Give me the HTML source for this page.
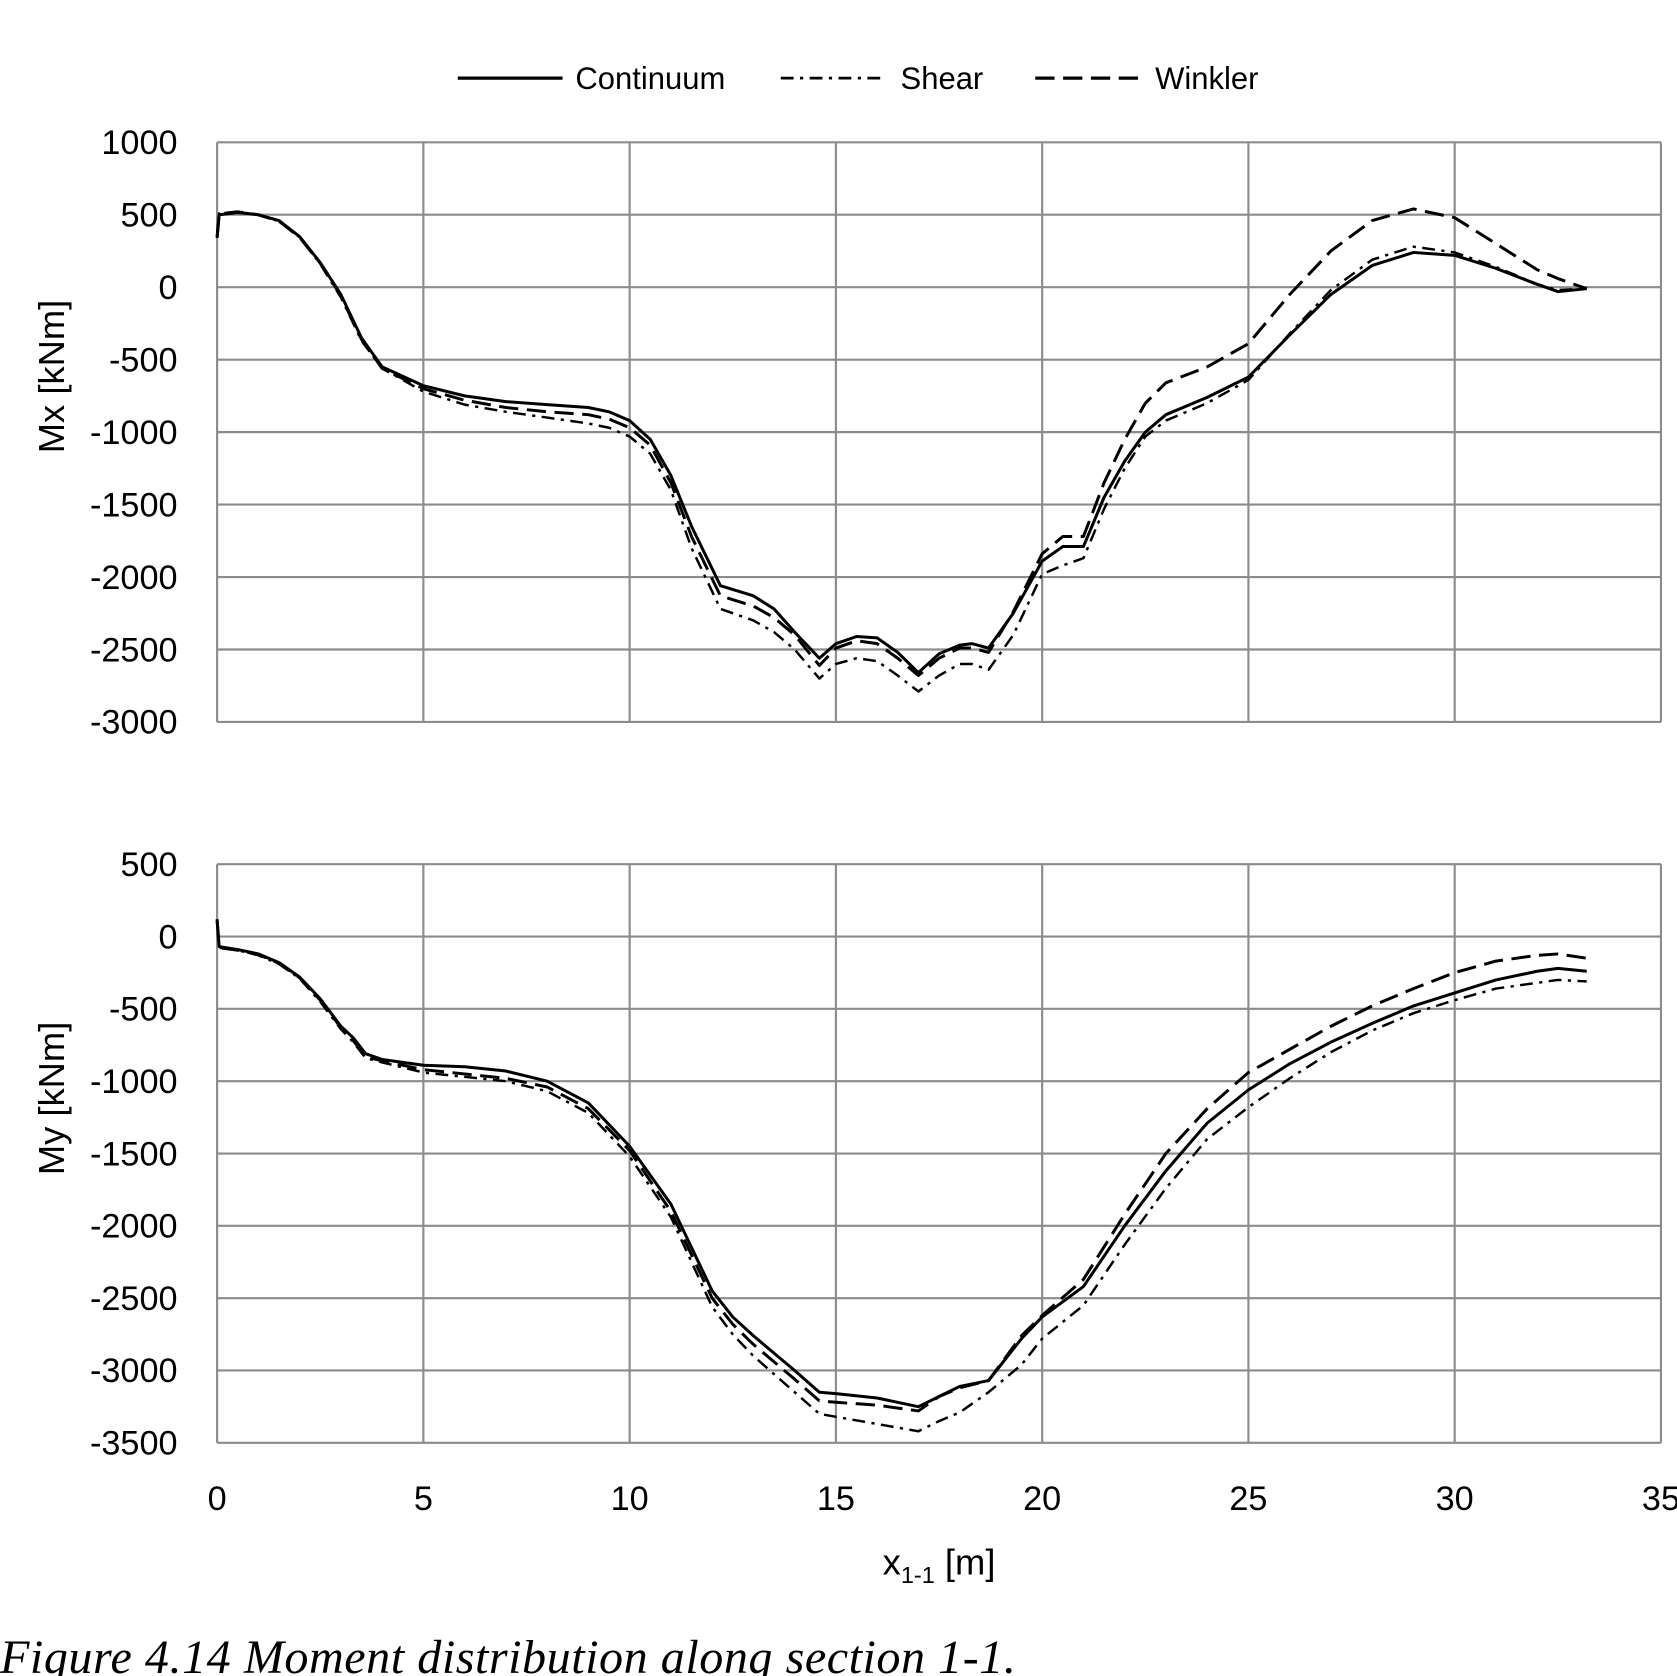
<!DOCTYPE html>
<html><head><meta charset="utf-8"><style>
html,body{margin:0;padding:0;background:#fff;}
svg{display:block;}
text{font-family:"Liberation Sans",sans-serif;fill:#000;}
</style></head><body>
<svg id="chart" width="1677" height="1676" viewBox="0 0 1568 1567" xmlns="http://www.w3.org/2000/svg">
<g id="legend">
 <g><line x1="428" y1="73" x2="526" y2="73" stroke="#000" stroke-width="3"/><text x="538" y="83" font-size="29">Continuum</text></g>
 <g><line x1="730" y1="73" x2="828" y2="73" stroke="#000" stroke-width="2.5" stroke-dasharray="12,6,3,6"/><text x="842" y="83" font-size="29">Shear</text></g>
 <g><line x1="968" y1="73" x2="1068" y2="73" stroke="#000" stroke-width="3" stroke-dasharray="18,8"/><text x="1080" y="83" font-size="29">Winkler</text></g>
</g>
<g id="top"></g>
<g id="bot"></g>
<text x="878" y="1472" font-size="34" text-anchor="middle">x<tspan font-size="22" dy="8">1-1</tspan><tspan dy="-8"> [m]</tspan></text>
<text transform="translate(60,352) rotate(-90)" font-size="34" text-anchor="middle">Mx [kNm]</text>
<text transform="translate(60,1027) rotate(-90)" font-size="34" text-anchor="middle">My [kNm]</text>
<text x="0" y="1564" font-size="45" font-style="italic" style="font-family:'Liberation Serif',serif" letter-spacing="0.5">Figure 4.14 Moment distribution along section 1-1.</text>
</svg>
<script>
const xTicks=[0,5,10,15,20,25,30,35];
const mxTicks=[1000,500,0,-500,-1000,-1500,-2000,-2500,-3000];
const myTicks=[500,0,-500,-1000,-1500,-2000,-2500,-3000,-3500];

const mxX_c=[0,0.05,0.5,1,1.5,2,2.5,3,3.5,4,5,6,7,8,9,9.5,10,10.5,11,11.5,12.2,13,13.5,14,14.6,15,15.5,16,16.5,17,17.5,18,18.3,18.7,19.3,20,20.5,21,21.5,22,22.5,23,24,25,26,27,28,29,30,31,32,32.5,33.2];
const mxContinuum=[340,500,515,500,460,350,170,-50,-350,-550,-680,-750,-790,-810,-830,-860,-920,-1050,-1300,-1650,-2060,-2130,-2220,-2380,-2560,-2460,-2410,-2420,-2520,-2660,-2530,-2470,-2460,-2490,-2250,-1890,-1790,-1790,-1450,-1200,-1000,-880,-760,-620,-330,-50,150,240,220,130,20,-30,-10];
const mxShear=[360,510,520,500,455,345,160,-70,-370,-560,-720,-810,-860,-900,-940,-970,-1030,-1150,-1400,-1800,-2220,-2300,-2380,-2500,-2700,-2600,-2560,-2580,-2680,-2790,-2680,-2600,-2600,-2640,-2400,-1980,-1920,-1870,-1530,-1250,-1030,-920,-800,-640,-320,-20,190,280,240,140,20,-20,-10];
const mxWinkler=[350,505,520,500,455,345,165,-60,-360,-560,-700,-780,-830,-860,-880,-910,-970,-1090,-1350,-1720,-2130,-2200,-2280,-2400,-2610,-2490,-2440,-2460,-2560,-2680,-2560,-2490,-2490,-2520,-2240,-1840,-1720,-1720,-1350,-1050,-800,-660,-550,-390,-50,250,460,540,480,300,120,60,-10];

const myX_c=[0,0.05,0.5,1,1.5,2,2.5,3,3.3,3.6,4,5,6,7,8,9,10,11,12,12.5,13,14,14.6,15,16,17,17.5,18,18.7,19.5,20,21,22,23,24,25,26,27,28,29,30,31,32,32.5,33.2];
const myContinuum=[120,-70,-90,-120,-180,-280,-430,-620,-700,-810,-850,-890,-900,-930,-1000,-1150,-1450,-1850,-2450,-2630,-2760,-3000,-3150,-3160,-3190,-3250,-3180,-3110,-3070,-2780,-2630,-2420,-2000,-1620,-1290,-1060,-880,-730,-600,-480,-390,-300,-240,-220,-240];
const myShear=[100,-80,-95,-130,-190,-290,-450,-640,-730,-840,-870,-940,-970,-1000,-1070,-1220,-1520,-1940,-2560,-2750,-2900,-3150,-3300,-3320,-3370,-3420,-3350,-3290,-3150,-2960,-2780,-2550,-2130,-1740,-1400,-1180,-980,-800,-650,-530,-440,-360,-320,-300,-310];
const myWinkler=[110,-75,-95,-125,-185,-285,-440,-630,-720,-830,-860,-920,-950,-980,-1040,-1190,-1480,-1900,-2500,-2680,-2820,-3060,-3210,-3220,-3240,-3280,-3180,-3120,-3070,-2760,-2620,-2370,-1920,-1500,-1190,-940,-780,-620,-480,-360,-250,-170,-130,-120,-150];

const NS='http://www.w3.org/2000/svg';
const X0=203,X1=1553;
function xs(v){return X0+(v-0)/(35-0)*(X1-X0);}
function mk(tag,attrs,parent){const e=document.createElementNS(NS,tag);for(const k in attrs)e.setAttribute(k,attrs[k]);parent.appendChild(e);return e;}

function drawPanel(g,ticks,yTop,yBot,xsArr,series,name){
  const vmax=ticks[0],vmin=ticks[ticks.length-1];
  const ys=v=>yTop+(vmax-v)/(vmax-vmin)*(yBot-yTop);
  ticks.forEach(t=>{
    const l=mk('line',{x1:X0,x2:X1,y1:ys(t),y2:ys(t),stroke:'#8c8c8c','stroke-width':2},g);
    
    
    const tx=mk('text',{x:166,y:ys(t)+11,'font-size':32,'text-anchor':'end'},g);
    tx.textContent=t;
    
    
  });
  xTicks.forEach(t=>{
    const l=mk('line',{x1:xs(t),x2:xs(t),y1:yTop,y2:yBot,stroke:'#8c8c8c','stroke-width':2},g);
    
    
  });
  const styles=[{w:2.8,d:''},{w:2.3,d:'12,6,3,6'},{w:2.8,d:'18,8'}];
  const names=['continuum','shear','winkler'];
  series.forEach((s,i)=>{
    const pts=xsArr.map((x,j)=>xs(x).toFixed(1)+','+ys(s[j]).toFixed(1)).join(' ');
    const a={points:pts,fill:'none',stroke:'#000','stroke-width':styles[i].w,'stroke-linejoin':'round'};
    if(styles[i].d)a['stroke-dasharray']=styles[i].d;
    const p=mk('polyline',a,g);
    
    
  });
}
drawPanel(document.getElementById('top'),mxTicks,133,675,mxX_c,[mxContinuum,mxShear,mxWinkler],'mx');
drawPanel(document.getElementById('bot'),myTicks,808,1349,myX_c,[myContinuum,myShear,myWinkler],'my');
const svg=document.getElementById('chart');
xTicks.forEach(t=>{
  const tx=mk('text',{x:xs(t),y:1412,'font-size':32,'text-anchor':'middle'},svg);
  tx.textContent=t;
  
  
});
</script>
</body></html>
